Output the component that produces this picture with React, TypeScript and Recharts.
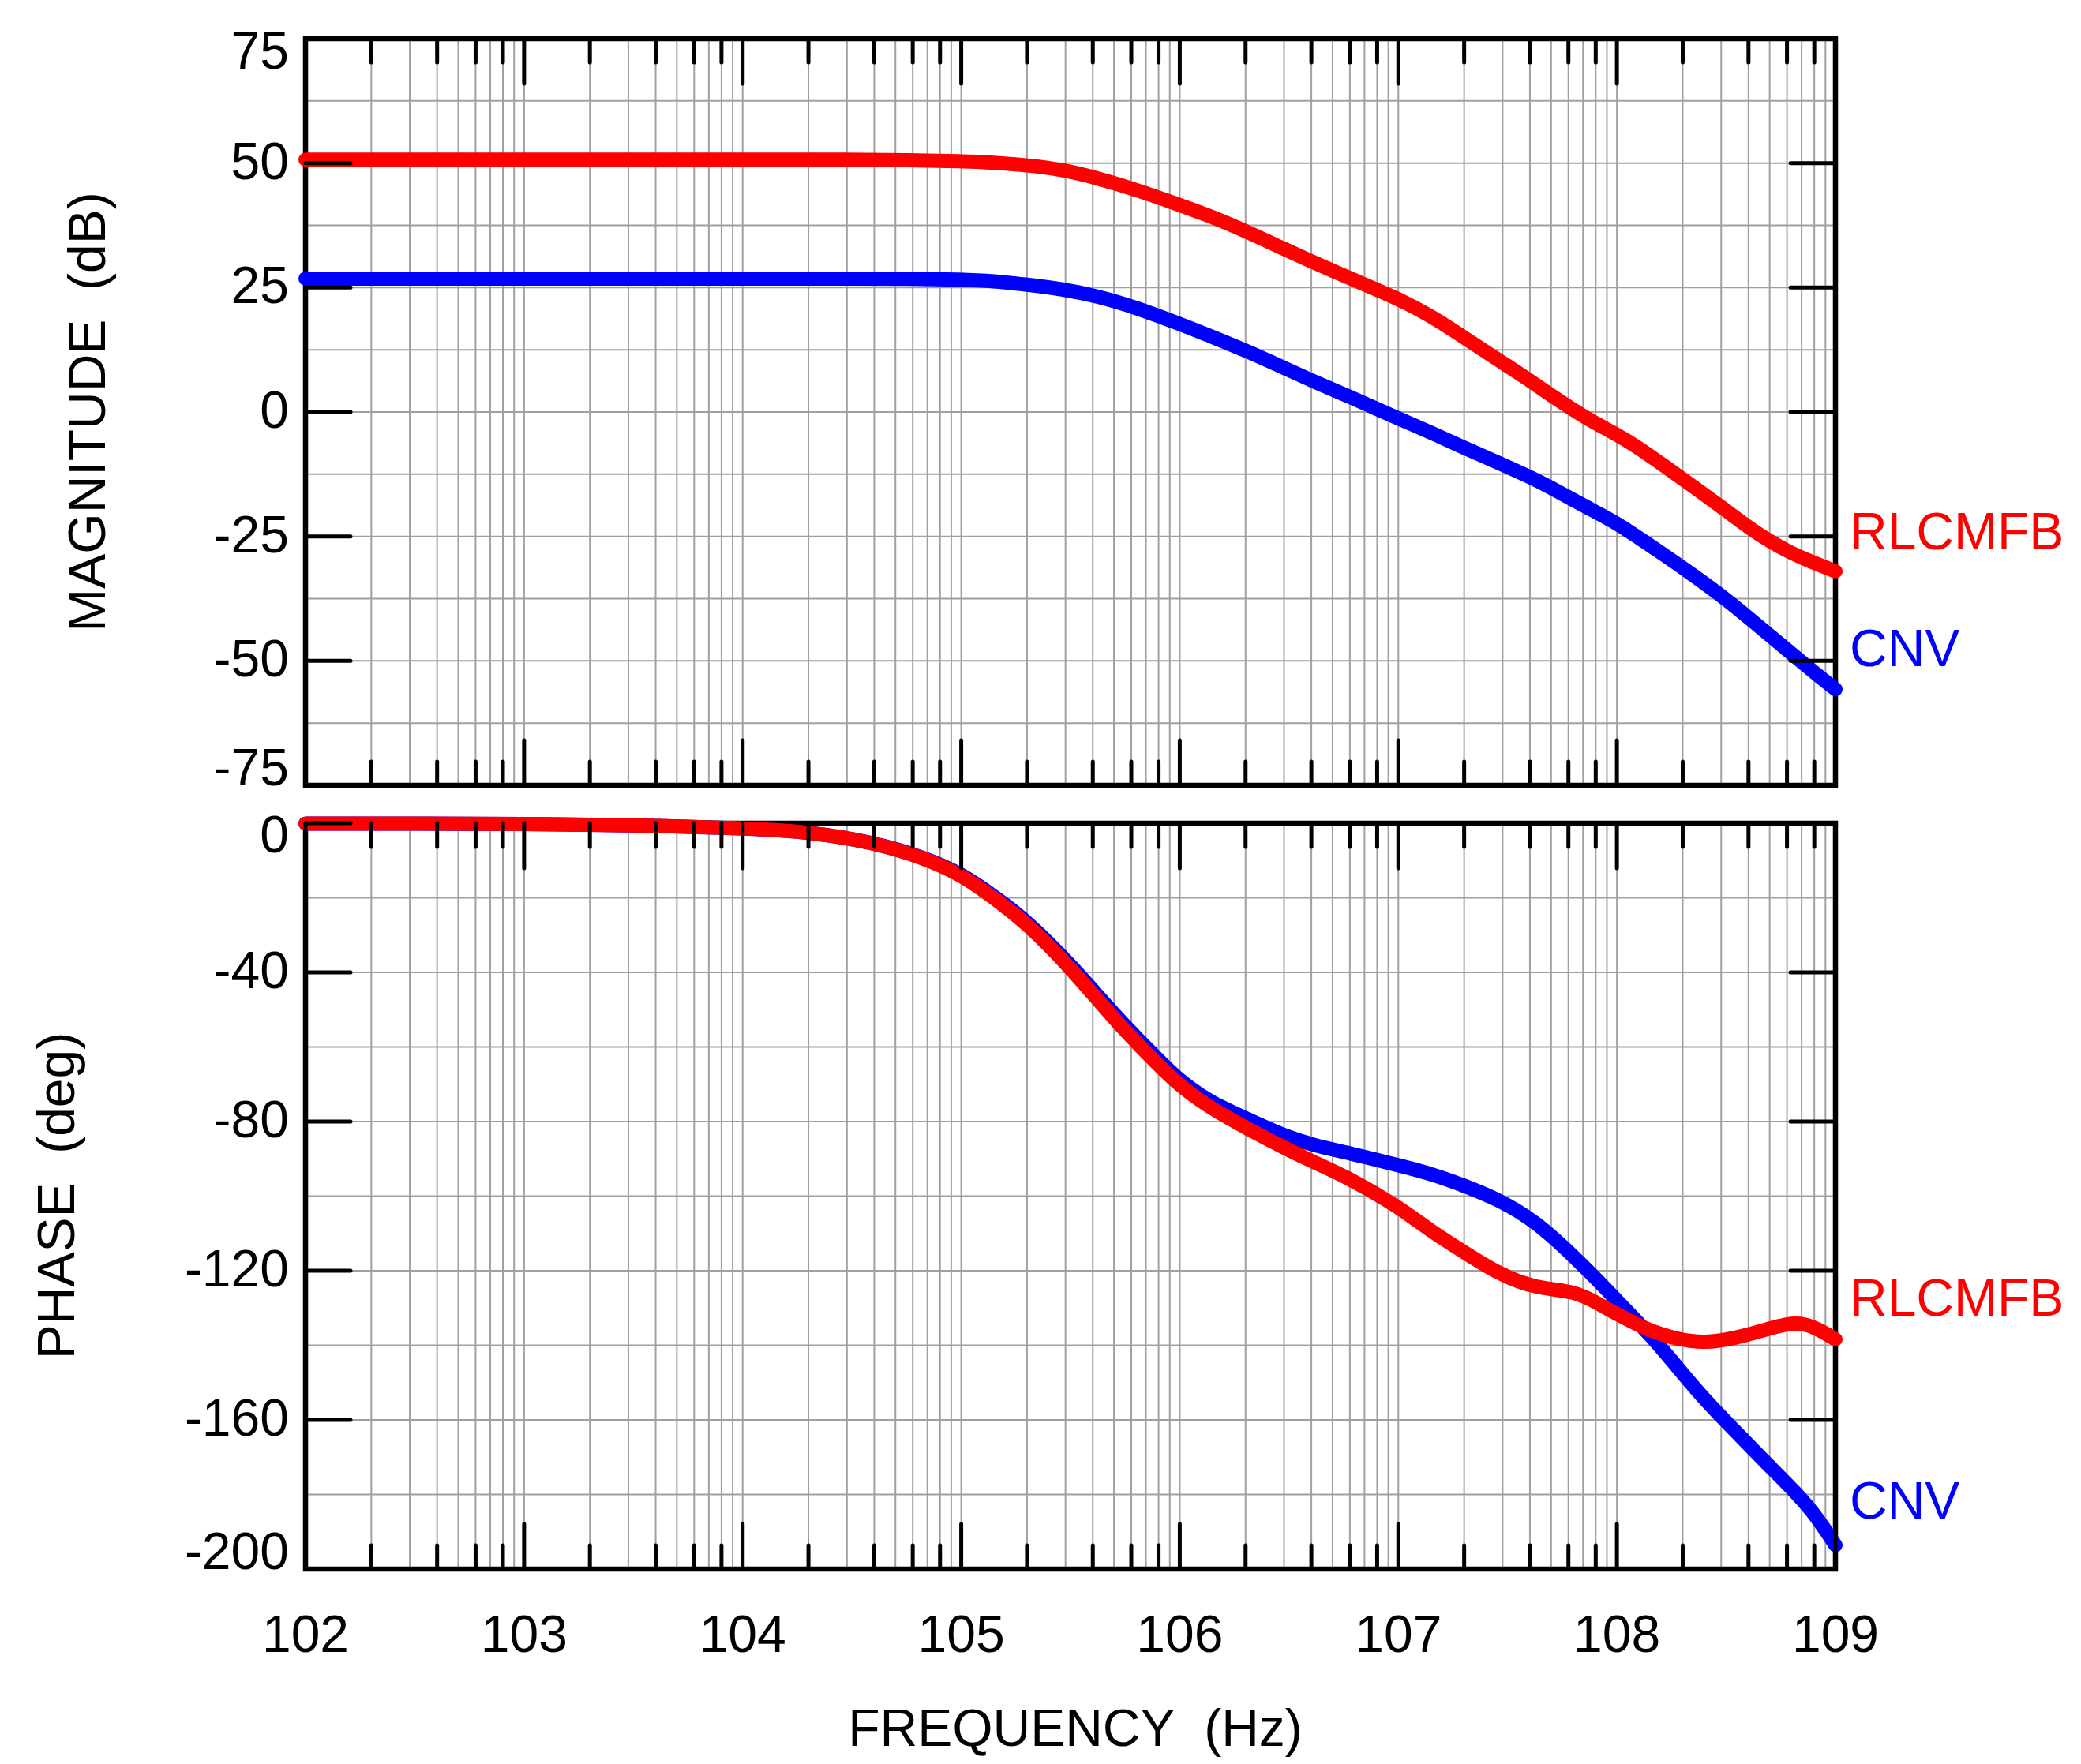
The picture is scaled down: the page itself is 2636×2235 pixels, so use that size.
import React from "react";
import {
  LineChart,
  Line,
  XAxis,
  YAxis,
  CartesianGrid,
  ReferenceArea,
  ReferenceDot
} from "recharts";

// ---- data ----
const magFreq = [
  100, 1e3, 1e4, 3.2e4, 5.7e4, 1e5, 1.41e5, 2e5, 2.9e5, 4.2e5, 6.3e5, 1e6,
  1.41e6, 2.04e6, 3.02e6, 4.17e6, 5.89e6, 1e7, 1.41e7, 1.95e7, 2.88e7, 3.98e7,
  4.9e7, 7.24e7, 1e8, 1.26e8, 1.62e8, 2.24e8, 3.16e8, 4.07e8, 5.01e8, 6.17e8,
  7.94e8, 1e9
];
const magRlcmfb = [
  50.7, 50.7, 50.7, 50.7, 50.6, 50.4, 50.1, 49.6, 48.7, 47.0, 44.7, 41.6,
  39.2, 36.2, 32.7, 29.9, 27.0, 22.8, 19.3, 15.3, 10.4, 6.4,
  3.6, -1.3, -4.5, -7.2, -10.6, -15.0, -19.8, -23.4, -26.0, -28.2,
  -30.3, -32.0
];
const magCnv = [
  26.8, 26.8, 26.8, 26.8, 26.8, 26.6, 26.3, 25.6, 24.7, 23.3, 21.0, 17.7,
  15.1, 12.2, 8.8, 6.0, 3.2, -1.3, -4.1, -7.0, -10.2, -13.0,
  -15.0, -19.1, -22.3, -25.3, -28.5, -32.8, -37.6, -41.6, -44.9, -48.2,
  -52.2, -55.7
];

const phaseFreq = [
  100, 316, 1e3, 2.95e3, 1e4, 2e4, 3.9e4, 6.9e4, 1e5, 1.41e5, 2e5, 3.16e5,
  5.1e5, 7.1e5, 1e6, 1.41e6, 2.04e6, 3.02e6, 4.17e6, 5.89e6, 1e7, 1.41e7,
  1.95e7, 2.88e7, 4.27e7, 6.46e7, 8.3e7, 1e8, 1.41e8, 1.9e8, 2.51e8, 3.55e8,
  4.68e8, 6.6e8, 8.1e8, 1e9
];
const phaseRlcmfb = [
  -0.1, -0.1, -0.2, -0.5, -1.3, -2.3, -5.0, -9.5, -13.8, -20.0, -26.9, -38.7,
  -53.1, -61.8, -70.6, -76.7, -81.9, -87.1, -91.1, -95.0, -102.8, -109.4,
  -114.6, -120.9, -124.8, -125.4, -129.0, -131.6, -136.2, -138.4, -139.5, -138.0,
  -136.0, -133.5, -135.2, -138.4
];
const phaseCnv = [
  -0.1, -0.1, -0.2, -0.5, -1.3, -2.3, -5.0, -9.3, -13.5, -19.5, -26.2, -37.8,
  -51.8, -60.4, -69.3, -75.1, -79.3, -83.9, -86.5, -88.4, -91.7, -94.0,
  -96.9, -100.9, -106.8, -116.6, -123.0, -128.0, -137.0, -146.0, -154.5, -163.5,
  -170.8, -179.5, -185.5, -193.6
];

// ---- axes ----
const decades = [1e2, 1e3, 1e4, 1e5, 1e6, 1e7, 1e8, 1e9];
const decadeLabels = ["102", "103", "104", "105", "106", "107", "108", "109"];
const minorTicks = decades.slice(0, -1).flatMap((d) => [2, 4, 6, 8].map((m) => m * d));
const xTicks = [...decades, ...minorTicks].sort((a, b) => a - b);
const xGrid = decades
  .slice(0, -1)
  .flatMap((d) => [1, 2, 3, 4, 5, 6, 7, 8, 9].map((m) => m * d))
  .concat([1e9]);

const magTicks = [75, 50, 25, 0, -25, -50, -75];
const magTickLabels = ["75", "50", "25", "0", "-25", "-50", "-75"];
const magGrid = [75, 62.5, 50, 37.5, 25, 12.5, 0, -12.5, -25, -37.5, -50, -62.5, -75];

const phaseTicks = [0, -40, -80, -120, -160, -200];
const phaseTickLabels = ["0", "-40", "-80", "-120", "-160", "-200"];
const phaseGrid = [0, -20, -40, -60, -80, -100, -120, -140, -160, -180, -200];

const magData = magFreq.map((f, i) => ({ f, rlcmfb: magRlcmfb[i], cnv: magCnv[i] }));
const phaseData = phaseFreq.map((f, i) => ({ f, rlcmfb: phaseRlcmfb[i], cnv: phaseCnv[i] }));

// ---- layout ----
const W = 2636;
const PLOT_L = 387;
const PLOT_R = 2325;
const PLOT_W = PLOT_R - PLOT_L;
const Y_AXIS_W = 100;
const MAG_H = 946;
const PHASE_H = 945;
const FONT = "'Liberation Sans', Arial, Helvetica, sans-serif";
const FS = 66;
const RED = "#ff0000";
const BLUE = "#0000ff";
const LINE_W = 18;

const makeXTick = (plotH: number, withLabels: boolean) => (props: any) => {
  const { x, y, payload } = props;
  const di = decades.indexOf(payload.value);
  const len = di >= 0 ? 57 : 30;
  return (
    <g>
      <line x1={x} y1={y} x2={x} y2={y - len} stroke="#000" strokeWidth={5} strokeLinecap="round" />
      <line x1={x} y1={y - plotH} x2={x} y2={y - plotH + len} stroke="#000" strokeWidth={5} strokeLinecap="round" />
      {withLabels && di >= 0 && (
        <text x={x} y={y + 105} textAnchor="middle" fontSize={FS} fontFamily={FONT} fill="#000">
          {decadeLabels[di]}
        </text>
      )}
    </g>
  );
};

const makeYTick = (ticks: number[], labels: string[], topBase: number) => (props: any) => {
  const { x, y, payload } = props;
  const i = ticks.indexOf(payload.value);
  const last = ticks.length - 1;
  const base = i === 0 ? y + topBase : i === last ? y : y + 20;
  return (
    <g>
      <line x1={x} y1={y} x2={x + 57} y2={y} stroke="#000" strokeWidth={5} strokeLinecap="round" />
      <line x1={x + PLOT_W} y1={y} x2={x + PLOT_W - 57} y2={y} stroke="#000" strokeWidth={5} strokeLinecap="round" />
      <text x={x - 21} y={base} textAnchor="end" fontSize={FS} fontFamily={FONT} fill="#000">
        {labels[i]}
      </text>
    </g>
  );
};

const endLabel = (text: string, color: string, dy: number) => (props: any) => {
  const vb = props.viewBox || {};
  const x = (vb.x ?? props.x) + (vb.width || 0) / 2;
  const y = (vb.y ?? props.y) + (vb.height || 0) / 2;
  return (
    <text x={x + 18} y={y + dy} fill={color} fontSize={FS} fontFamily={FONT}>
      {text}
    </text>
  );
};

const title = (text: string, x: number, y: number, rotate: boolean) => () => (
  <text
    x={x}
    y={y}
    textAnchor="middle"
    fontSize={FS}
    fontFamily={FONT}
    fill="#000"
    style={{ whiteSpace: "pre" }}
    transform={rotate ? `rotate(-90, ${x}, ${y})` : undefined}
  >
    {text}
  </text>
);

const App: React.FC = () => {
  const lastMag = magData[magData.length - 1];
  const lastPhase = phaseData[phaseData.length - 1];
  return (
    <div style={{ position: "absolute", left: 0, top: 0, width: W, height: 2235, background: "#fff" }}>
      {/* magnitude panel */}
      <div style={{ position: "absolute", left: 0, top: 0 }}>
        <LineChart
          width={W}
          height={1020}
          data={magData}
          margin={{ top: 49, right: W - PLOT_R, bottom: 0, left: PLOT_L - Y_AXIS_W }}
        >
          <CartesianGrid stroke="#a0a0a0" strokeWidth={2} verticalValues={xGrid} horizontalValues={magGrid} />
          <XAxis
            dataKey="f"
            type="number"
            scale="log"
            domain={[100, 1e9]}
            ticks={xTicks}
            interval={0}
            axisLine={false}
            tickLine={false}
            tickSize={0}
            tickMargin={0}
            height={25}
            tick={makeXTick(MAG_H, false)}
          />
          <YAxis
            type="number"
            domain={[-75, 75]}
            ticks={magTicks}
            interval={0}
            axisLine={false}
            tickLine={false}
            tickSize={0}
            tickMargin={0}
            width={Y_AXIS_W}
            tick={makeYTick(magTicks, magTickLabels, 38)}
            label={title("MAGNITUDE\u00a0\u00a0(dB)", 133, 522, true)}
          />
          <ReferenceArea x1={100} x2={1e9} y1={-75} y2={75} fill="none" stroke="#000" strokeWidth={6.5} />
          <Line
            type="basis"
            dataKey="cnv"
            stroke={BLUE}
            strokeWidth={LINE_W}
            strokeLinecap="round"
            strokeLinejoin="round"
            dot={false}
            activeDot={false}
            isAnimationActive={false}
            zIndex={600}
          />
          <Line
            type="basis"
            dataKey="rlcmfb"
            stroke={RED}
            strokeWidth={LINE_W}
            strokeLinecap="round"
            strokeLinejoin="round"
            dot={false}
            activeDot={false}
            isAnimationActive={false}
            zIndex={600}
          />
          <ReferenceDot x={lastMag.f} y={lastMag.rlcmfb} r={0} stroke="none" fill="none" ifOverflow="visible" label={endLabel("RLCMFB", RED, -28)} />
          <ReferenceDot x={lastMag.f} y={lastMag.cnv} r={0} stroke="none" fill="none" ifOverflow="visible" label={endLabel("CNV", BLUE, -29)} />
        </LineChart>
      </div>
      {/* phase panel */}
      <div style={{ position: "absolute", left: 0, top: 1020 }}>
        <LineChart
          width={W}
          height={1215}
          data={phaseData}
          margin={{ top: 23, right: W - PLOT_R, bottom: 0, left: PLOT_L - Y_AXIS_W }}
        >
          <CartesianGrid stroke="#a0a0a0" strokeWidth={2} verticalValues={xGrid} horizontalValues={phaseGrid} />
          <XAxis
            dataKey="f"
            type="number"
            scale="log"
            domain={[100, 1e9]}
            ticks={xTicks}
            interval={0}
            axisLine={false}
            tickLine={false}
            tickSize={0}
            tickMargin={0}
            height={247}
            tick={makeXTick(PHASE_H, true)}
            label={title("FREQUENCY\u00a0\u00a0(Hz)", 1362, 1192, false)}
          />
          <YAxis
            type="number"
            domain={[-200, 0]}
            ticks={phaseTicks}
            interval={0}
            axisLine={false}
            tickLine={false}
            tickSize={0}
            tickMargin={0}
            width={Y_AXIS_W}
            tick={makeYTick(phaseTicks, phaseTickLabels, 37)}
            label={title("PHASE\u00a0\u00a0(deg)", 94, 495, true)}
          />
          <ReferenceArea x1={100} x2={1e9} y1={-200} y2={0} fill="none" stroke="#000" strokeWidth={6.5} />
          <Line
            type="basis"
            dataKey="cnv"
            stroke={BLUE}
            strokeWidth={LINE_W}
            strokeLinecap="round"
            strokeLinejoin="round"
            dot={false}
            activeDot={false}
            isAnimationActive={false}
            zIndex={600}
          />
          <Line
            type="basis"
            dataKey="rlcmfb"
            stroke={RED}
            strokeWidth={LINE_W}
            strokeLinecap="round"
            strokeLinejoin="round"
            dot={false}
            activeDot={false}
            isAnimationActive={false}
            zIndex={600}
          />
          <ReferenceDot x={lastPhase.f} y={lastPhase.rlcmfb} r={0} stroke="none" fill="none" ifOverflow="visible" label={endLabel("RLCMFB", RED, -30)} />
          <ReferenceDot x={lastPhase.f} y={lastPhase.cnv} r={0} stroke="none" fill="none" ifOverflow="visible" label={endLabel("CNV", BLUE, -34)} />
        </LineChart>
      </div>
    </div>
  );
};

export default App;
